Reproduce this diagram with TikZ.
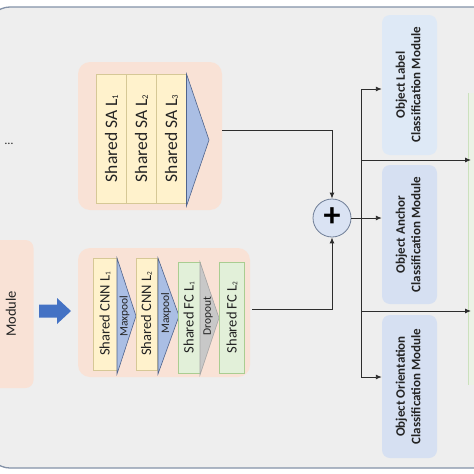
\documentclass[tikz,border=0pt]{standalone}
\usepackage{fontspec}
\setmainfont{Carlito}
\usetikzlibrary{arrows.meta,calc}
\definecolor{panelfill}{RGB}{238,238,238}
\definecolor{panelline}{RGB}{132,146,168}
\definecolor{peach}{RGB}{249,226,214}
\definecolor{yfill}{RGB}{255,242,204}
\definecolor{yline}{RGB}{214,200,150}
\definecolor{gfill}{RGB}{226,240,217}
\definecolor{gline}{RGB}{169,205,145}
\definecolor{trifill}{RGB}{170,190,228}
\definecolor{triline}{RGB}{80,100,140}
\definecolor{dropfill}{RGB}{200,200,200}
\definecolor{dropline}{RGB}{165,165,165}
\definecolor{bigblue}{RGB}{68,114,196}
\definecolor{circfill}{RGB}{218,227,243}
\definecolor{circline}{RGB}{110,125,150}
\definecolor{labfill}{RGB}{222,233,246}
\definecolor{ancfill}{RGB}{214,224,242}
\definecolor{txt}{RGB}{35,35,35}
\definecolor{conn}{RGB}{45,45,45}
\definecolor{stripfill}{RGB}{236,242,230}
\newcommand\mysub[1]{\raisebox{-0.05em}{\scalebox{0.5}{#1}}}
\tikzset{
  grp/.style={fill=peach, draw=none, rounded corners=12pt, inner sep=0pt},
  ybox/.style={fill=yfill, draw=yline, line width=0.6pt, inner sep=0pt, text=txt},
  gbox/.style={fill=gfill, draw=gline, line width=0.6pt, inner sep=0pt, text=txt},
  mbox/.style={fill=labfill, draw=none, rounded corners=8pt, inner sep=0pt, text=txt,
    minimum width=55pt, font=\fontsize{13}{15.5}\selectfont\bfseries},
  tri/.style={fill=trifill, draw=triline, line width=0.6pt},
  droptri/.style={fill=dropfill, draw=dropline, line width=0.6pt},
  trilabel/.style={inner sep=0pt, text=txt, font=\fontsize{11.5}{12}\selectfont},
  arr/.style={draw=conn, line width=0.9pt, -{Latex[length=6pt,width=5pt]}},
  ln/.style={draw=conn, line width=0.9pt},
}
\begin{document}
\begin{tikzpicture}[x=1pt,y=-1pt]
\useasboundingbox (0,0) rectangle (474,474);
\clip (0,0) rectangle (474,474);
\fill[white] (0,0) rectangle (474,474);
% outer panel
\draw[fill=panelfill, draw=panelline, line width=1.3pt, rounded corners=22pt] (-12,7) rectangle (500,468);
% faint green strip at right edge
\fill[stripfill] (468,93) rectangle (480,385);
\draw[gline!60, line width=0.6pt] (468.5,93) -- (468.5,385);

% dots
\node[text=txt, font=\fontsize{12}{12}\selectfont] (dots) at (9,144) {\ldots};

% module box
\node[grp, rounded corners=8pt, minimum width=45pt, minimum height=148pt,
  font=\fontsize{14.5}{15}\selectfont, text=txt] (mod) at (11,314) {\rotatebox{90}{Module}};

% big blue arrow
\fill[bigblue] (39,304.5) -- (57,304.5) -- (57,298) -- (71,311) -- (57,324) -- (57,317.5) -- (39,317.5) -- cycle;

% top group
\node[grp, minimum width=144pt, minimum height=148pt] (sagrp) at (150,136) {};
\node[ybox, minimum width=29.5pt, minimum height=129pt, font=\fontsize{17.5}{18}\selectfont] (sa1) at (111.5,138.5) {\rotatebox{90}{Shared SA L\mysub{1}}};
\node[ybox, minimum width=30pt, minimum height=129pt, font=\fontsize{17.5}{18}\selectfont] (sa2) at (141.5,138.5) {\rotatebox{90}{Shared SA L\mysub{2}}};
\node[ybox, minimum width=30pt, minimum height=129pt, font=\fontsize{17.5}{18}\selectfont] (sa3) at (171.5,138.5) {\rotatebox{90}{Shared SA L\mysub{3}}};
\draw[tri] (186.5,74) -- (209,140) -- (186.5,206) -- cycle;

% bottom group
\node[grp, minimum width=172pt, minimum height=129pt] (cnngrp) at (164,312.5) {};
\node[ybox, minimum width=24pt, minimum height=112pt, font=\fontsize{14.5}{15}\selectfont] (cnn1) at (105,314) {\rotatebox{90}{Shared CNN L\mysub{1}}};
\draw[tri] (117,258) -- (136,316) -- (117,374) -- cycle;
\node[trilabel] (mp1) at (124.5,316) {\rotatebox{90}{Maxpool}};
\node[ybox, minimum width=21pt, minimum height=112pt, font=\fontsize{14.5}{15}\selectfont] (cnn2) at (146.5,314) {\rotatebox{90}{Shared CNN L\mysub{2}}};
\draw[tri] (158,258) -- (179,316) -- (158,374) -- cycle;
\node[trilabel] (mp2) at (166,313) {\rotatebox{90}{Maxpool}};
\node[gbox, minimum width=22pt, minimum height=111pt, font=\fontsize{14.5}{15}\selectfont] (fc1) at (189,317.5) {\rotatebox{90}{Shared FC L\mysub{1}}};
\draw[droptri] (200,262) -- (219,318) -- (200,375) -- cycle;
\node[trilabel] (drop) at (208,316) {\rotatebox{90}{Dropout}};
\node[gbox, minimum width=25pt, minimum height=111pt, font=\fontsize{14.5}{15}\selectfont] (fc2) at (232,317.5) {\rotatebox{90}{Shared FC L\mysub{2}}};

% plus circle
\node[circle, fill=circfill, draw=circline, line width=0.8pt, minimum size=38pt, inner sep=0pt,
  text=black, font=\fontsize{34}{34}\selectfont\bfseries] (plus) at (332,218) {\raisebox{1pt}{+}};

% right modules
\node[mbox, minimum height=140pt] (lab) at (409.5,85) {\rotatebox{90}{\begin{tabular}{@{}c@{}}Object Label\\Classification Module\end{tabular}}};
\node[mbox, fill=ancfill, minimum height=139pt] (anc) at (409.5,234.5) {\rotatebox{90}{\begin{tabular}{@{}c@{}}Object Anchor\\Classification Module\end{tabular}}};
\node[mbox, fill=ancfill, minimum height=143pt] (ori) at (409.5,386.5) {\rotatebox{90}{\begin{tabular}{@{}c@{}}Object Orientation\\Classification Module\end{tabular}}};

% connectors
\coordinate (saout) at (222,130);
\coordinate (cnnout) at (252,309);
\draw[arr] (saout) -| (plus.north);
\draw[arr] (cnnout) -| (plus.south);
\draw[arr] (plus.east) -- (plus.east -| anc.west);
\coordinate (btop) at (361,89);
\coordinate (bbot) at (361,377);
\coordinate (o1) at (471,160);
\coordinate (o2) at (471,311);
\draw[ln] (btop) -- (bbot);
\draw[arr] (btop) -- (lab.west |- btop);
\draw[arr] (bbot) -- (ori.west |- bbot);
\draw[arr] (btop |- o1) -- (o1);
\draw[arr] (btop |- o2) -- (o2);
\end{tikzpicture}
\end{document}
